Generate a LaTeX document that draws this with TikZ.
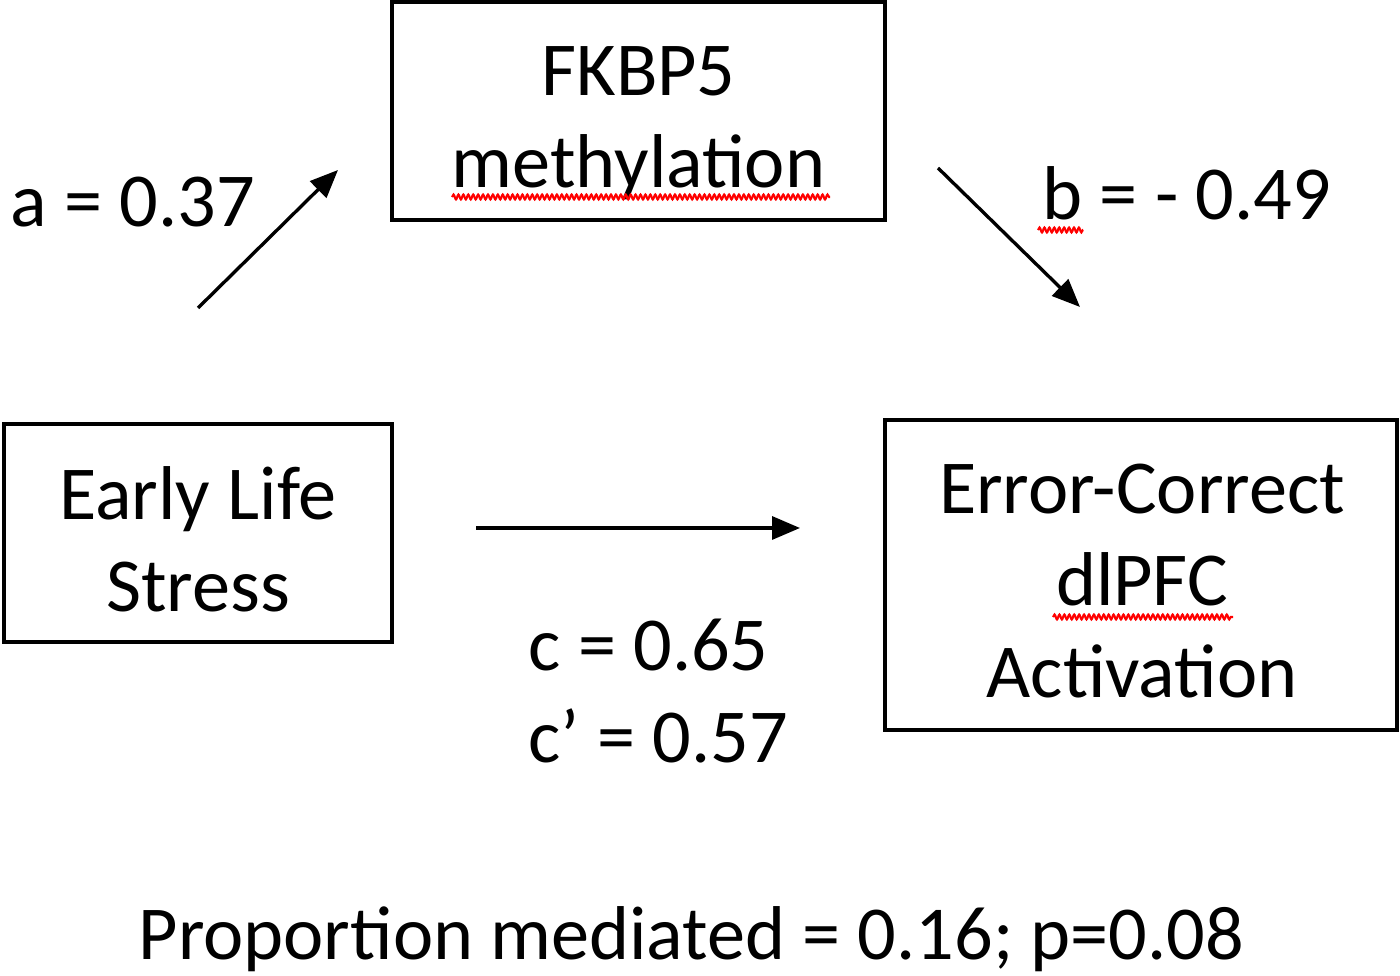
\documentclass[tikz,border=0pt]{standalone}
\usepackage{fontspec}
\setmainfont{Carlito}
\usetikzlibrary{arrows.meta,decorations.pathmorphing}
\tikzset{
  box/.style={draw, line width=1pt, inner sep=0pt},
  boxtext/.style={anchor=base, align=center, inner sep=0pt, font=\fontsize{21.7}{26.3}\selectfont},
  coef/.style={anchor=base west, align=left, inner sep=0pt, font=\fontsize{21.7}{26.3}\selectfont},
  effect/.style={-{Triangle[length=0.28cm, width=0.23cm]}, line width=0.95pt},
  squiggle/.style={red, line width=0.6pt, decorate, decoration={snake, segment length=1.4pt, amplitude=0.7pt}}
}
\begin{document}
\begin{tikzpicture}
  \useasboundingbox (0,0) rectangle (14,9.76);
  \node [box, minimum width=4.93cm, minimum height=2.18cm] (fkbp) at (6.385, 8.65) {};
  \node [box, minimum width=3.88cm, minimum height=2.18cm] (els) at (1.98, 4.43) {};
  \node [box, minimum width=5.12cm, minimum height=3.10cm] (ecd) at (11.41, 4.01) {};
  \node [boxtext] (fkbptext) at (6.385, 7.88) {FKBP5\\methylation};
  \node [boxtext] (elstext) at (1.98, 3.64) {Early Life\\Stress};
  \node [boxtext] (ecdtext) at (11.42, 2.78) {Error-Correct\\dlPFC\\Activation};
  \coordinate (astart) at (1.98, 6.68);
  \coordinate (aend) at (3.38, 8.06);
  \coordinate (bstart) at (9.38, 8.08);
  \coordinate (bend) at (10.80, 6.69);
  \coordinate (cstart) at (4.76, 4.48);
  \coordinate (cend) at (8.00, 4.48);
  \draw [effect] (astart) -- (aend);
  \draw [effect] (bstart) -- (bend);
  \draw [effect] (cstart) -- (cend);
  \node [coef] (alabel) at (0.10, 7.49) {a = 0.37};
  \node [coef] (blabel) at (10.42, 7.56) {b = - 0.49};
  \node [coef] (clabel) at (5.28, 2.13) {c = 0.65\\c’ = 0.57};
  \node [coef] (prop) at (1.38, 0.16) {Proportion mediated = 0.16; p=0.08};
  \draw [squiggle] (4.52, 7.79) -- (8.30, 7.79);
  \draw [squiggle] (10.53, 3.59) -- (12.33, 3.59);
  \draw [squiggle] (10.38, 7.46) -- (10.83, 7.46);
\end{tikzpicture}
\end{document}
